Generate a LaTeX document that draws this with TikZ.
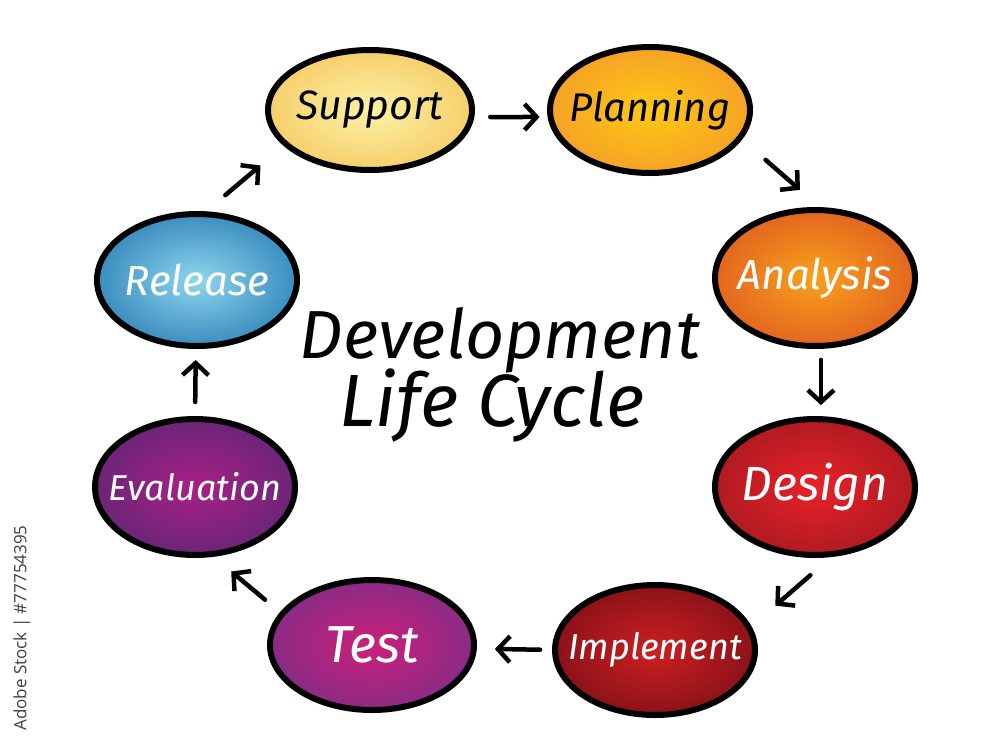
\documentclass[tikz,border=0pt]{standalone}
\usepackage{fontspec}
\setmainfont{Fira Sans}
\newfontfamily\wmfont{Open Sans}
\usetikzlibrary{shapes.geometric,arrows.meta}
\definecolor{supIn}{HTML}{FCF2A6}
\definecolor{supOut}{HTML}{F6CF6C}
\definecolor{plaIn}{HTML}{FFC817}
\definecolor{plaOut}{HTML}{F5A324}
\definecolor{anaIn}{HTML}{F8A11C}
\definecolor{anaOut}{HTML}{E3661F}
\definecolor{desIn}{HTML}{E82229}
\definecolor{desOut}{HTML}{B11A22}
\definecolor{impIn}{HTML}{CC2020}
\definecolor{impOut}{HTML}{8C1219}
\definecolor{tstIn}{HTML}{CB2078}
\definecolor{tstOut}{HTML}{8A2B86}
\definecolor{evaIn}{HTML}{A82086}
\definecolor{evaOut}{HTML}{6C2577}
\definecolor{relIn}{HTML}{8FD6EE}
\definecolor{relOut}{HTML}{3A8DBF}
\newcommand{\fsz}[1]{\itshape\fontsize{#1}{#1}\selectfont}
\begin{document}
\begin{tikzpicture}[x=1pt,y=-1pt,
  bubble/.style={ellipse, draw=black, line width=6pt, inner xsep=-60pt, inner ysep=-30pt, outer sep=0pt,
    font=\fsz{40}, text=white},
  arr/.style={line width=4.5pt, line cap=round,
    -{Straight Barb[length=12pt,width=26pt,line width=4.5pt]}},
  title/.style={font=\fsz{68}, text=black},
  wm/.style={font=\wmfont\fontsize{17}{20}\selectfont, text=black!75, rotate=90}
]
\useasboundingbox (0,0) rectangle (1000,750);
\fill[white] (0,0) rectangle (1000,750);

\node[bubble, minimum width=204pt, minimum height=120pt, inner color=supIn, outer color=supOut, text=black, font=\fsz{41}] (sup) at (370,110) {Support};
\node[bubble, minimum width=200pt, minimum height=126pt, inner color=plaIn, outer color=plaOut, text=black, font=\fsz{40}] (plan) at (650,110) {Planning};
\node[bubble, minimum width=200pt, minimum height=136pt, inner color=anaIn, outer color=anaOut, font=\fsz{42}] (ana) at (815,278) {Analysis};
\node[bubble, minimum width=200pt, minimum height=136pt, inner color=desIn, outer color=desOut, font=\fsz{48}] (des) at (815,487) {Design};
\node[bubble, minimum width=200pt, minimum height=130pt, inner color=impIn, outer color=impOut, font=\fsz{36}] (imp) at (655,650) {Implement};
\node[bubble, minimum width=204pt, minimum height=130pt, inner color=tstIn, outer color=tstOut, font=\fsz{52}] (tst) at (372,645) {Test};
\node[bubble, minimum width=200pt, minimum height=136pt, inner color=evaIn, outer color=evaOut, font=\fsz{36}] (eva) at (195,487) {Evaluation};
\node[bubble, minimum width=200pt, minimum height=132pt, inner color=relIn, outer color=relOut, font=\fsz{42}] (rel) at (197,280) {Release};

\node[title] (t1) at (500,340) {Development};
\node[title, font=\fsz{74}] (t2) at (492,406) {Life Cycle};

\node[wm] (wmk) at (22,628) {Adobe Stock | \#77754395};

\draw[arr, shorten <=19pt, shorten >=11pt] (sup.-4.5) -- (plan.184.6);
\draw[arr, shorten <=34pt, shorten >=31pt] (plan.-17.5) -- (ana.83);
\draw[arr, shorten <=14pt, shorten >=14pt] (ana.-85.8) -- (des.85.8);
\draw[arr, shorten <=33pt, shorten >=34.5pt] (des.-73.3) -- (imp.13.5);
\draw[arr, shorten <=15pt, shorten >=21pt] (imp.180) -- (tst.-2.8);
\draw[arr, shorten <=22.5pt, shorten >=27pt] (tst.161.3) -- (eva.-77.9);
\draw[arr, shorten <=17pt, shorten >=14pt] (eva.90) -- (rel.-91);
\draw[arr, shorten <=29.5pt, shorten >=33.3pt] (rel.85.1) -- (sup.-158.5);
\end{tikzpicture}
\end{document}
